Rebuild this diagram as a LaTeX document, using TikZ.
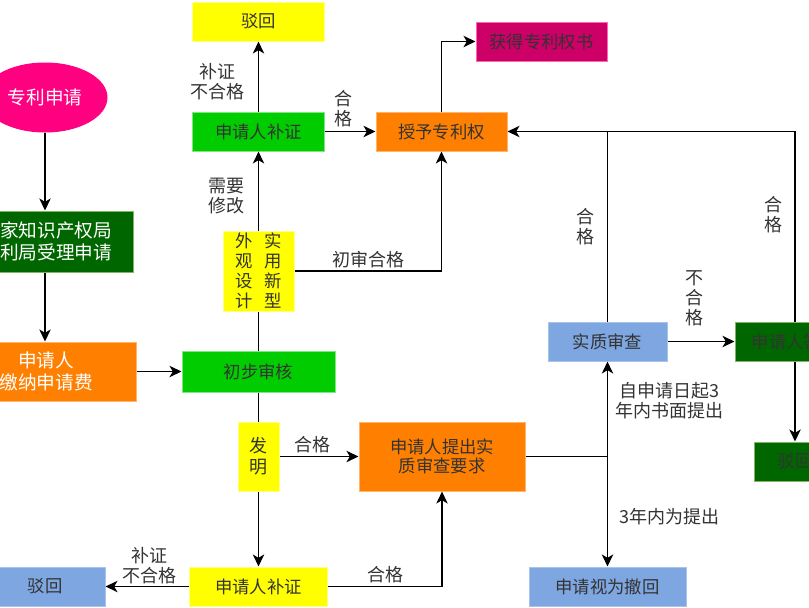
\documentclass[tikz,border=0pt]{standalone}
\usepackage{fontspec}
\setmainfont{Noto Sans CJK SC}
\usepackage{xcolor}
\usepackage{tikz}
\usetikzlibrary{positioning}
\usetikzlibrary{shapes.geometric}
\usetikzlibrary{arrows.meta}

\definecolor{cPink}{HTML}{FF0080}
\definecolor{cDkGreen}{HTML}{006600}
\definecolor{cDkGreenB}{HTML}{82B366}
\definecolor{cGreen}{HTML}{00CC00}
\definecolor{cGreenB}{HTML}{80E680}
\definecolor{cOrange}{HTML}{FF8000}
\definecolor{cOrangeB}{HTML}{FFB570}
\definecolor{cYellow}{HTML}{FFFF00}
\definecolor{cYellowB}{HTML}{FFFF88}
\definecolor{cBlue}{HTML}{7EA6E0}
\definecolor{cBlueB}{HTML}{A9C4EB}
\definecolor{cMag}{HTML}{CC0066}
\definecolor{cMagB}{HTML}{FF66B3}

\begin{document}
\begin{tikzpicture}[x=0.75pt,y=-0.75pt]
    \tikzset{box/.style={shape=rectangle,draw,line width=0.75pt,inner sep=0pt,align=center,text=black!80,font=\fontsize{13}{15}\selectfont}}
    \tikzset{bigtext/.style={text=white,font=\fontsize{14}{16}\selectfont}}
    \tikzset{edge/.style = {->,> = {Stealth[length=9pt,width=8.5pt,inset=2.5pt]},line width=1.3pt}}
    \tikzset{wire/.style = {line width=1.3pt}}
    \tikzset{lbl/.style = {inner sep=1pt,align=center,text=black!80,font=\fontsize{13.5}{15}\selectfont}}
    \useasboundingbox (0,0) rectangle (809,607);
    \clip (0,0) rectangle (809,607);

    % left column
    \node[box,bigtext,shape=ellipse,fill=cPink,draw=cPink,minimum width=93pt,minimum height=51.75pt] (apply) at (45,97.5) {专利申请};
    \node[box,bigtext,fill=cDkGreen,draw=cDkGreenB,minimum width=129pt,minimum height=45.75pt] (accept) at (47,241.5) {国家知识产权局\\专利局受理申请};
    \node[box,bigtext,fill=cOrange,draw=cOrangeB,minimum width=135pt,minimum height=44.25pt] (fee) at (46,371.5) {申请人\\缴纳申请费};

    % middle column
    \node[box,fill=cYellow,draw=cYellowB,minimum width=99pt,minimum height=29.25pt] (rejA) at (258.5,21.5) {驳回};
    \node[box,fill=cGreen,draw=cGreenB,minimum width=99pt,minimum height=29.25pt] (suppA) at (258.5,131.5) {申请人补证};
    \node[box,fill=cYellow,draw=cYellowB,minimum width=53.25pt,minimum height=60pt] (design) at (258.5,271) {外\hspace{0.67em}实\\观\hspace{0.67em}用\\设\hspace{0.67em}新\\计\hspace{0.67em}型};
    \node[box,fill=cGreen,draw=cGreenB,minimum width=114.75pt,minimum height=30.75pt] (prelim) at (258.5,371.5) {初步审核};
    \node[box,fill=cYellow,draw=cYellowB,font=\fontsize{13.5}{15.75}\selectfont,minimum width=30.75pt,minimum height=51.75pt] (inv) at (258.5,456.5) {发\\明};
    \node[box,fill=cYellow,draw=cYellowB,minimum width=103.5pt,minimum height=29.25pt] (suppB) at (258.5,586.5) {申请人补证};
    \node[box,fill=cBlue,draw=cBlueB,minimum width=90pt,minimum height=29.25pt] (rejB) at (45,586.5) {驳回};

    % right part
    \node[box,fill=cOrange,draw=cOrangeB,minimum width=98.25pt,minimum height=29.25pt] (grant) at (441.5,131.5) {授予专利权};
    \node[box,fill=cMag,draw=cMagB,minimum width=98.25pt,minimum height=29.25pt] (cert) at (541.5,41.5) {获得专利权书};
    \node[box,fill=cOrange,draw=cOrangeB,font=\fontsize{13}{14.5}\selectfont,minimum width=124.5pt,minimum height=51.75pt] (req) at (442,456.5) {申请人提出实\\质审查要求};
    \node[box,fill=cBlue,draw=cBlueB,minimum width=89.25pt,minimum height=29.25pt] (subst) at (607.5,341.5) {实质审查};
    \node[box,fill=cBlue,draw=cBlueB,minimum width=117.75pt,minimum height=29.25pt] (wdraw) at (607.5,586.5) {申请视为撤回};
    \node[box,fill=cDkGreen,draw=cDkGreenB,minimum width=90pt,minimum height=29.25pt] (reply) at (795,341.5) {申请人答复};
    \node[box,fill=cDkGreen,draw=cDkGreenB,minimum width=61.5pt,minimum height=29.25pt] (rejC) at (795,461.5) {驳回};
    \coordinate (j) at (subst |- req);
    \coordinate (top) at (subst |- grant);

    \draw[edge] (apply) -- (apply |- accept.north);
    \draw[edge] (apply |- accept.south) -- (apply |- fee.north);
    \draw[edge] (fee) -- (prelim);
    \draw[wire] (prelim) -- (design);
    \draw[wire] (prelim) -- (inv);
    \draw[edge] (design) -- node[lbl,left=9pt,pos=0.44] {需要\\修改} (suppA);
    \draw[edge] (suppA) -- node[lbl,left=9pt,pos=0.42] {补证\\不合格} (rejA);
    \draw[edge] (suppA) -- node[lbl,above=2pt,pos=0.37] {合\\格} (grant);
    \draw[edge] (design.east) -| node[lbl,above=1pt,pos=0.25] {初审合格} (grant);
    \draw[edge] (grant) |- (cert);
    \draw[edge] (subst) |- node[lbl,left=8pt,pos=0.25] {合\\格} (grant);
    \draw[wire] (reply) |- node[lbl,left=8pt,pos=0.28] {合\\格} (top);
    \draw[edge] (subst) -- node[lbl,above=10pt,pos=0.41] {不\\合\\格} (reply);
    \draw[edge] (reply) -- (rejC);
    \draw[edge] (inv) -- node[lbl,above=1pt,pos=0.42] {合格} (req);
    \draw[wire] (req) -- (j);
    \draw[edge] (j) -- node[lbl,right=4pt,pos=0.59] {自申请日起3\\年内书面提出} (subst);
    \draw[edge] (j) -- node[lbl,right=7pt,pos=0.55] {3年内为提出} (wdraw);
    \draw[edge] (inv) -- (suppB);
    \draw[edge] (suppB) -- node[lbl,above=0pt,pos=0.47] {补证\\不合格} (rejB);
    \draw[edge] (suppB) -| node[lbl,above=1pt,pos=0.25] {合格} (req);
  \end{tikzpicture}
\end{document}
